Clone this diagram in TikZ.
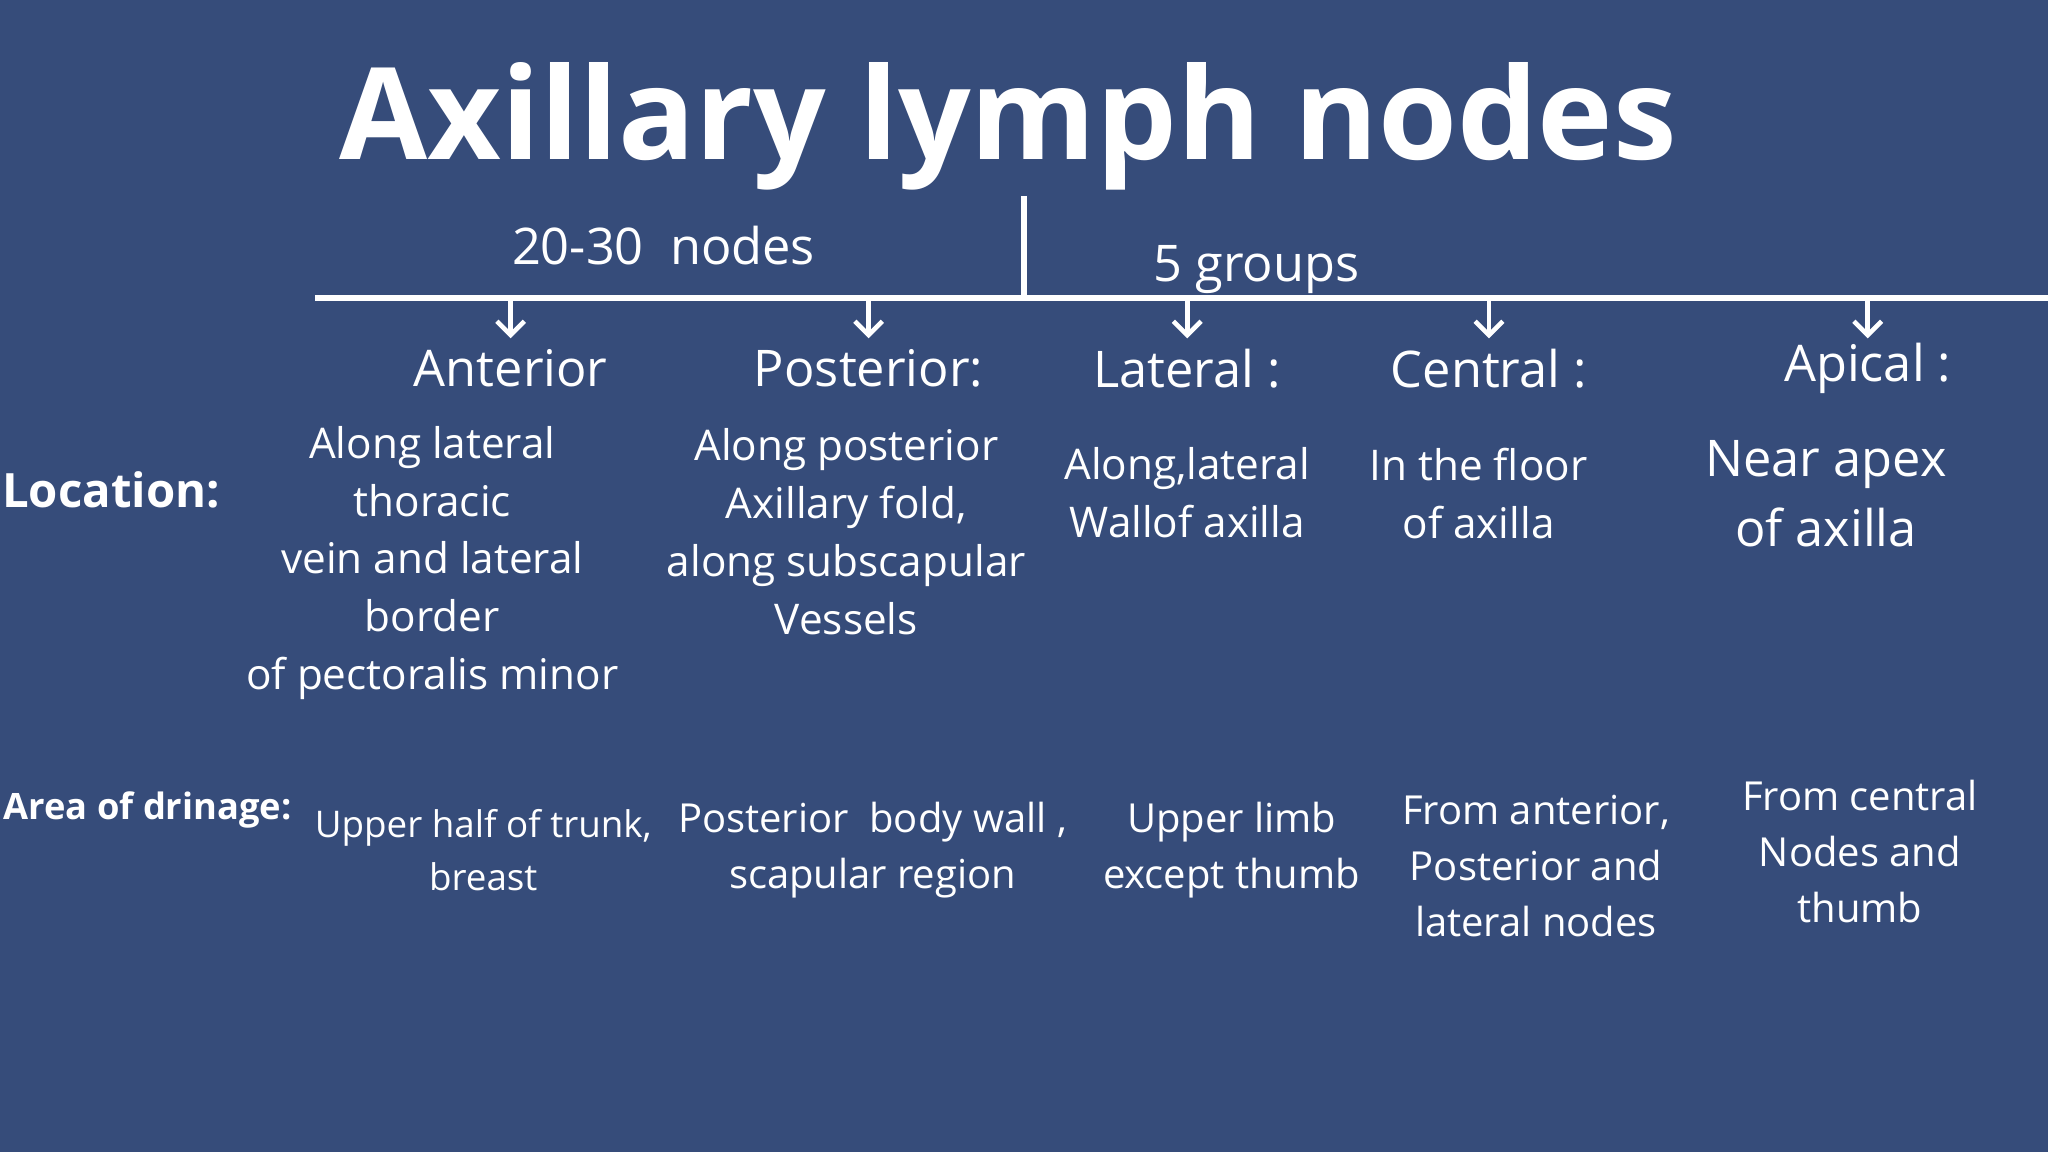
\documentclass[tikz,border=0pt]{standalone}
\usepackage{fontspec}
\setmainfont{Open Sans}
\definecolor{bgblue}{HTML}{364C7A}
\tikzset{
  body/.style={text=white, align=center, font=\fontsize{9.2}{12.6}\selectfont, inner sep=0pt},
  small/.style={body, font=\fontsize{8.7}{12.1}\selectfont},
  head/.style={text=white, font=\fontsize{11}{13}\selectfont, inner sep=0pt},
  side/.style={text=white, anchor=west, inner sep=0pt},
  line/.style={white, line width=1.2pt},
  arr/.style={white, line width=1pt, -{Straight Barb[length=3pt]}}
}
\usetikzlibrary{arrows.meta}
\begin{document}
\begin{tikzpicture}[x=0.01cm, y=-0.01cm]
	\fill[bgblue] (0,0) rectangle (1568,882);
	\useasboundingbox (0,0) rectangle (1568,882);
	
	% Title
	\node[text=white, font=\fontsize{27.8}{32}\selectfont\bfseries] (title) at (772,97) {Axillary lymph nodes};
	\node[head] (count) at (508,188) {20-30\ \ nodes};
	\node[head] (groups) at (962,206) {5 groups};
	
	% Bar
	\coordinate (barL) at (241,228);
	\coordinate (barR) at (1568,228);
	\coordinate (stemT) at (784,150);
	\coordinate (stemB) at (784,228);
	\draw[line] (barL) -- (barR);
	\draw[line] (stemT) -- (stemB);
	
	% Groups
	\foreach \n/\x/\t in {ant/391/Anterior, post/665/Posterior:, lat/909/Lateral :, cen/1140/Central :, api/1430/Apical :} {
		\coordinate (top-\n) at (\x,228);
		\node[head] (\n) at (\x,282) {\t};
		\draw[arr] (top-\n) -- ++(0,31);
	}
	
	% Location
	\node[side, font=\fontsize{10.3}{12}\selectfont\bfseries] (loc) at (1,375) {Location:};
	\node[body] (locant) at (331,431) {Along lateral\\thoracic\\vein and lateral\\border\\of pectoralis minor};
	\node[body] (locpost) at (648,407) {Along posterior\\Axillary fold,\\along subscapular\\Vessels};
	\node[body] (loclat) at (909,377) {Along,lateral\\Wallof axilla};
	\node[body] (loccen) at (1132,378) {In the floor\\of axilla};
	\node[body, font=\fontsize{11}{15.2}\selectfont] (locapi) at (1398,378) {Near apex\\of axilla};
	
	% Area of drainage
	\node[side, font=\fontsize{7.9}{10}\selectfont\bfseries] (area) at (2,620) {Area of drinage:};
	\node[small, font=\fontsize{8}{11.4}\selectfont] (arant) at (370,651) {Upper half of trunk,\\breast};
	\node[small] (arpost) at (668,651) {Posterior\ \ body wall ,\\scapular region};
	\node[small] (arlat) at (943,651) {Upper limb\\except thumb};
	\node[small] (arcen) at (1176,663) {From anterior,\\Posterior and\\lateral nodes};
	\node[small] (arapi) at (1424,652) {From central\\Nodes and\\thumb};
\end{tikzpicture}
\end{document}
